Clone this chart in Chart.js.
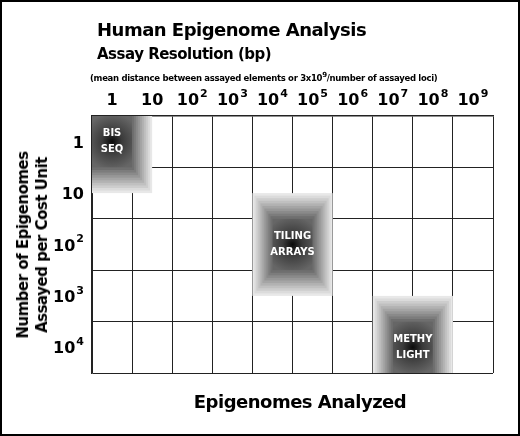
<!DOCTYPE html>
<html>
<head>
<meta charset="utf-8">
<script src="https://cdn.jsdelivr.net/npm/chart.js@4"></script>
<style>
  body { margin: 0; background: #fff; }
  #wrap { position: relative; width: 520px; height: 436px; font-family: "DejaVu Sans", sans-serif; font-weight: bold; color: #000; }
  #wrap canvas { position: absolute; left: 0; top: 0; }
  .frame { position: absolute; left: 0; top: 0; width: 516px; height: 432px; border: 2px solid #000; pointer-events: none; }
  .t { position: absolute; white-space: nowrap; letter-spacing: -0.5px; }
</style>
</head>
<body>
<div id="wrap">
  <canvas id="c" width="520" height="436"></canvas>
  <div class="t" style="left:97px;top:19px;font-size:18px;">Human Epigenome Analysis</div>
  <div class="t" style="left:97px;top:45px;font-size:15px;">Assay Resolution (bp)</div>
  <div class="t" style="left:90px;top:71px;font-size:8.5px;letter-spacing:-0.3px;">(mean distance between assayed elements or 3x10<sup style="font-size:7px">9</sup>/number of assayed loci)</div>
  <div class="t" style="left:33px;top:245px;font-size:15px;line-height:19px;text-align:center;transform:translate(-50%,-50%) rotate(-90deg);">Number of Epigenomes<br>Assayed per Cost Unit</div>
  <div class="t" style="left:300px;top:391px;font-size:18px;transform:translateX(-50%);">Epigenomes Analyzed</div>
  <div class="frame"></div>
</div>
<script>
// axis tick labels: base and exponent
const resolutionLabels = ['1', '10', '10', '10', '10', '10', '10', '10', '10', '10'];
const resolutionExp = ['', '', '2', '3', '4', '5', '6', '7', '8', '9'];
const epigenomeLabels = ['1', '10', '10', '10', '10'];
const epigenomeExp = ['', '', '2', '3', '4'];

// assay blobs: column / row index of centre, and label lines
const assayNames = [['BIS', 'SEQ'], ['TILING', 'ARRAYS'], ['METHY', 'LIGHT']];
const assayCol = [0, 4.5, 7.5];
const assayRow = [0, 2, 4];

const FONT = '"DejaVu Sans", sans-serif';

function drawPow(ctx, base, exp, x, y, align) {
    ctx.font = 'bold 16px ' + FONT;
    const bw = ctx.measureText(base).width;
    ctx.font = 'bold 11px ' + FONT;
    const ew = exp ? ctx.measureText(exp).width + 1 : 0;
    let left = align === 'right' ? x - bw - ew : x - (bw + ew) / 2;
    ctx.textAlign = 'left';
    ctx.textBaseline = 'middle';
    ctx.font = 'bold 16px ' + FONT;
    ctx.fillText(base, left, y);
    if (exp) {
        ctx.font = 'bold 11px ' + FONT;
        ctx.fillText(exp, left + bw + 1, y - 7);
    }
}

const blobPlugin = {
    id: 'blobs',
    beforeDatasetsDraw(chart) {
        const { ctx, chartArea, scales } = chart;
        const x = scales.x, y = scales.y;
        ctx.save();
        ctx.beginPath();
        ctx.rect(chartArea.left, chartArea.top, chartArea.right - chartArea.left, chartArea.bottom - chartArea.top);
        ctx.clip();
        assayNames.forEach((name, i) => {
            const cx = x.getPixelForValue(assayCol[i]);
            const cy = y.getPixelForValue(assayRow[i]);
            const cw = (x.getPixelForValue(1) - x.getPixelForValue(0)) / 2;
            const ch = (y.getPixelForValue(1) - y.getPixelForValue(0)) / 2;
            const steps = 10;
            for (let s = 0; s < steps; s++) {
                const f = 2 - s / steps;
                const g = Math.round(232 - (s / steps) * 135);
                ctx.fillStyle = `rgb(${g},${g},${g})`;
                ctx.fillRect(cx - cw * f, cy - ch * f, cw * 2 * f, ch * 2 * f);
            }
            const grad = ctx.createRadialGradient(cx, cy, 0, cx, cy, Math.max(cw, ch) * 1.1);
            grad.addColorStop(0, '#0a0a0a');
            grad.addColorStop(0.35, '#3a3a3a');
            grad.addColorStop(1, '#666');
            ctx.fillStyle = grad;
            ctx.fillRect(cx - cw, cy - ch, cw * 2, ch * 2);
            ctx.fillStyle = '#fff';
            ctx.font = 'bold 10px ' + FONT;
            ctx.textAlign = 'center';
            ctx.textBaseline = 'middle';
            ctx.fillText(name[0], cx, cy - 8);
            ctx.fillText(name[1], cx, cy + 8);
        });
        ctx.restore();
    },
    afterDraw(chart) {
        const { ctx, scales } = chart;
        ctx.save();
        ctx.fillStyle = '#000';
        resolutionLabels.forEach((b, i) => {
            drawPow(ctx, b, resolutionExp[i], scales.x.getPixelForValue(i), 101, 'center');
        });
        epigenomeLabels.forEach((b, i) => {
            drawPow(ctx, b, epigenomeExp[i], 84, scales.y.getPixelForValue(i) + 2, 'right');
        });
        ctx.restore();
    }
};

new Chart(document.getElementById('c'), {
    type: 'scatter',
    data: { datasets: [{ data: [] }] },
    options: {
        responsive: false,
        animation: false,
        layout: { padding: { top: 0, left: 0, right: 27, bottom: 63 } },
        plugins: { legend: { display: false }, tooltip: { enabled: false } },
        scales: {
            x: {
                type: 'category',
                labels: resolutionLabels,
                position: 'top',
                offset: true,
                grid: { offset: true, color: '#222', lineWidth: 1, drawTicks: false },
                border: { color: '#222', width: 1.5 },
                ticks: { display: false },
                afterFit(s) { s.height = 116; }
            },
            y: {
                type: 'category',
                labels: epigenomeLabels,
                offset: true,
                grid: { offset: true, color: '#222', lineWidth: 1, drawTicks: false },
                border: { color: '#222', width: 1.5 },
                ticks: { display: false },
                afterFit(s) { s.width = 92; }
            }
        }
    },
    plugins: [blobPlugin]
});
</script>
</body>
</html>
